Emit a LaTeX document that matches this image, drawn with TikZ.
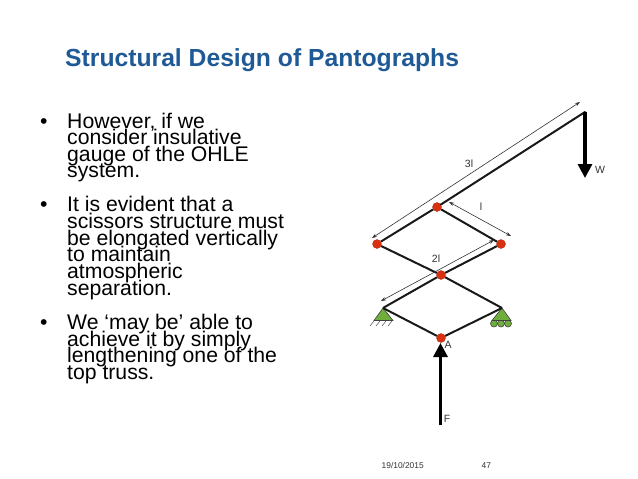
\documentclass[tikz,border=0pt]{standalone}
\usepackage{fontspec}
\setmainfont{Liberation Sans}
\usetikzlibrary{arrows.meta}
\definecolor{titleblue}{HTML}{1F5A96}
\definecolor{joint}{HTML}{D9300F}
\definecolor{sup}{HTML}{6FAE3C}
\tikzset{
  x=1pt,y=-1pt,
  body/.style={anchor=base west,inner sep=0pt,font=\fontsize{21.2}{22}\selectfont,text=black},
  bar/.style={line width=2pt,draw=black!90},
  joint node/.style={circle,fill=joint,draw=joint!80!black,line width=.3pt,inner sep=0pt,minimum size=9pt},
  dim/.style={draw=black!80,line width=.6pt,{Stealth[length=5pt,width=3.5pt]}-{Stealth[length=5pt,width=3.5pt]}},
  force/.style={line width=3.2pt,draw=black,-{Triangle[length=14pt,width=14pt]}},
  lab/.style={inner sep=0pt,font=\fontsize{10.5}{11}\selectfont,text=black!80},
  support/.style={fill=sup,draw=black!75,line width=.6pt},
  foot/.style={inner sep=0pt,anchor=base west,font=\fontsize{8.4}{9}\selectfont,text=black!80}
}
\begin{document}
\begin{tikzpicture}
\useasboundingbox (0,0) rectangle (638,479);
\fill[white] (0,0) rectangle (638,479);
\node[anchor=base west,inner sep=0pt,font=\fontsize{24.7}{28}\selectfont\bfseries,text=titleblue] (title) at (65,66) {Structural Design of Pantographs};
% bullets
\foreach \n/\y in {b1/128,b2/211,b3/329}{\node[body] (\n) at (40,\y) {•};}
\node[body] (l1) at (67,128) {However, if we};
\node[body] (l2) at (67,144) {consider insulative};
\node[body] (l3) at (67,161) {gauge of the OHLE};
\node[body] (l4) at (67,177) {system.};
\node[body] (l5) at (67,211) {It is evident that a};
\node[body] (l6) at (67,228) {scissors structure must};
\node[body] (l7) at (67,245) {be elongated vertically};
\node[body] (l8) at (67,261) {to maintain};
\node[body] (l9) at (67,278) {atmospheric};
\node[body] (l10) at (67,295) {separation.};
\node[body] (l11) at (67,329) {We ‘may be’ able to};
\node[body] (l12) at (67,346) {achieve it by simply};
\node[body] (l13) at (67,362) {lengthening one of the};
\node[body] (l14) at (67,379) {top truss.};
% geometry
\coordinate (tip) at (585,112);
\coordinate (Wend) at (585,178);
\coordinate (Fbot) at (440.5,425);
\coordinate (Ftip) at (440.5,343);
\coordinate (ls) at (383,308);
\coordinate (rs) at (502,308);
% hatching of left support
\foreach \i in {0,1,2,3}{\draw[black!60,line width=.6pt] (374+\i*6,321) -- +(-4,5);}
% supports
\foreach \cx in {494,501,508}{\draw[support] (\cx,323.5) circle (3.5);}
\draw[support] (ls) -- (374,320.5) -- (393,320.5) -- cycle;
\draw[support] (rs) -- (492,320.5) -- (511,320.5) -- cycle;
% joints as nodes
\node[joint node] (top) at (437,207) {};
\node[joint node] (left) at (377,244) {};
\node[joint node] (right) at (501,244) {};
\node[joint node] (mid) at (441,275) {};
\node[joint node] (A) at (441,338) {};
% bars
\draw[bar,line cap=round] (tip) -- (top);
\draw[bar] (top) -- (left);
\draw[bar] (top) -- (right);
\draw[bar] (left) -- (mid);
\draw[bar] (right) -- (mid);
\draw[bar] (mid) -- (ls);
\draw[bar] (mid) -- (rs);
\draw[bar] (ls) -- (A);
\draw[bar] (rs) -- (A);
% forces
\draw[force] (tip) -- (Wend);
\draw[force] (Fbot) -- (Ftip);
% dimensions
\coordinate (d3a) at (372,238);\coordinate (d3b) at (580,102);
\coordinate (d1a) at (449,202);\coordinate (d1b) at (511,236);
\coordinate (d2a) at (494,240);\coordinate (d2b) at (381,301);
\draw[dim] (d3a) -- (d3b);
\draw[dim] (d1a) -- (d1b);
\draw[dim] (d2a) -- (d2b);
% labels
\node[lab] (t3l) at (469,164) {3l};
\node[lab] (t1l) at (481,207) {l};
\node[lab] (t2l) at (436,259) {2l};
\node[lab] (tW) at (600,170) {W};
\node[lab] (tA) at (448,345) {A};
\node[lab] (tF) at (447,419) {F};
\node[foot] (date) at (381.5,468) {19/10/2015};
\node[foot] (page) at (481.5,468) {47};
\end{tikzpicture}
\end{document}
